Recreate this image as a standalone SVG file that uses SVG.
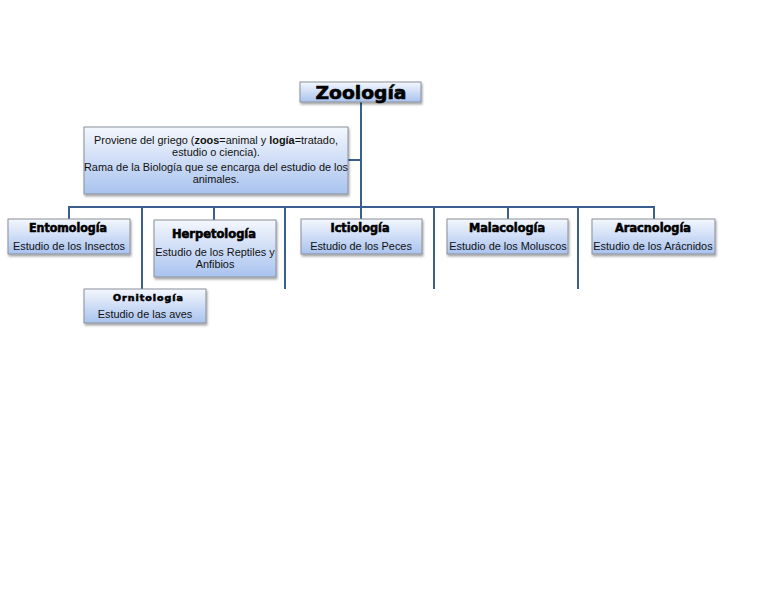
<svg xmlns="http://www.w3.org/2000/svg" width="768" height="594" viewBox="0 0 768 594">
<defs>
<linearGradient id="g" x1="0" y1="0" x2="0" y2="1">
<stop offset="0" stop-color="#f4f7fd"/>
<stop offset="1" stop-color="#a9c3ef"/>
</linearGradient>
<filter id="sh" x="-10%" y="-10%" width="130%" height="140%">
<feDropShadow dx="1" dy="2" stdDeviation="1.2" flood-color="#000" flood-opacity="0.35"/>
</filter>
<style>
.box{fill:url(#g);stroke:#8a8f99;stroke-width:1;filter:url(#sh)}
.ln{fill:none;stroke:#3a5f8e;stroke-width:2}
.t{font-family:"DejaVu Sans","Liberation Sans",Arial,sans-serif;font-weight:bold;fill:#000;text-anchor:middle;stroke:#000;stroke-width:0.6}
.b{font-family:"Liberation Sans",Arial,sans-serif;font-size:10.9px;fill:#111;text-anchor:middle}
</style>
</defs>
<rect width="768" height="594" fill="#fff"/>
<g id="connectors">
<path class="ln" d="M361 102 V207"/>
<path class="ln" d="M348 160 H361"/>
<path class="ln" d="M69 219 V207 H654 V219"/>
<path class="ln" d="M142 207 V289"/>
<path class="ln" d="M214 207 V220"/>
<path class="ln" d="M285 207 V289"/>
<path class="ln" d="M361 207 V219"/>
<path class="ln" d="M434 207 V289"/>
<path class="ln" d="M508 207 V219"/>
<path class="ln" d="M578 207 V289"/>
</g>
<g id="zoologia">
<rect class="box" x="300" y="82" width="121" height="20"/>
<text class="t" x="361" y="99" font-size="18" stroke-width="0.9" textLength="91" lengthAdjust="spacingAndGlyphs">Zoología</text>
</g>
<g id="definicion">
<rect class="box" x="84" y="127" width="264" height="67"/>
<text class="b" x="216" y="144">Proviene del griego (<tspan font-weight="bold">zoos</tspan>=animal y <tspan font-weight="bold">logía</tspan>=tratado,</text>
<text class="b" x="216" y="156">estudio o ciencia).</text>
<text class="b" x="216" y="171">Rama de la Biología que se encarga del estudio de los</text>
<text class="b" x="216" y="183">animales.</text>
</g>
<g id="entomologia">
<rect class="box" x="8" y="219" width="122" height="35"/>
<text class="t" x="68" y="232" font-size="12" textLength="78" lengthAdjust="spacingAndGlyphs">Entomología</text>
<text class="b" x="69" y="250">Estudio de los Insectos</text>
</g>
<g id="herpetologia">
<rect class="box" x="154" y="220" width="122" height="57"/>
<text class="t" x="214" y="238" font-size="12" textLength="84" lengthAdjust="spacingAndGlyphs">Herpetología</text>
<text class="b" x="215" y="256">Estudio de los Reptiles y</text>
<text class="b" x="215" y="268">Anfibios</text>
</g>
<g id="ictiologia">
<rect class="box" x="301" y="219" width="121" height="35"/>
<text class="t" x="360" y="232" font-size="12" textLength="59" lengthAdjust="spacingAndGlyphs">Ictiología</text>
<text class="b" x="361" y="250">Estudio de los Peces</text>
</g>
<g id="malacologia">
<rect class="box" x="447" y="219" width="121" height="35"/>
<text class="t" x="507" y="232" font-size="12" textLength="76" lengthAdjust="spacingAndGlyphs">Malacología</text>
<text class="b" x="508" y="250">Estudio de los Moluscos</text>
</g>
<g id="aracnologia">
<rect class="box" x="592" y="219" width="123" height="35"/>
<text class="t" x="653" y="232" font-size="12" textLength="76" lengthAdjust="spacingAndGlyphs">Aracnología</text>
<text class="b" x="653" y="250">Estudio de los Arácnidos</text>
</g>
<g id="ornitologia">
<rect class="box" x="84" y="289" width="122" height="34"/>
<text class="t" x="148" y="301" font-size="9.5" stroke-width="0.3" textLength="70" lengthAdjust="spacing">Ornitología</text>
<text class="b" x="145" y="318">Estudio de las aves</text>
</g>
</svg>
